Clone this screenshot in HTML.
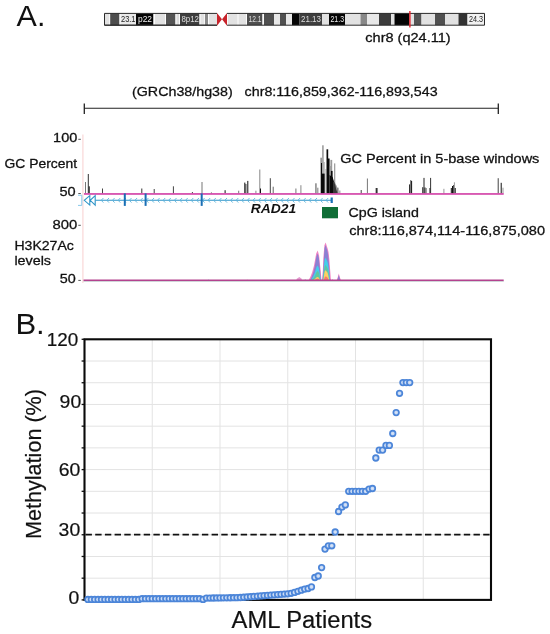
<!DOCTYPE html>
<html><head><meta charset="utf-8"><title>RAD21 figure</title>
<style>html,body{margin:0;padding:0;background:#fff;} svg{display:block;} .m{stroke:#111;stroke-width:0.28px;} .b{stroke:#111;stroke-width:0.2px;}</style></head>
<body><svg width="550" height="634" viewBox="0 0 550 634">
<rect width="550" height="634" fill="#fff"/>
<text transform="translate(16.6,26.1) scale(1.03,1)" font-size="29.6" fill="#111" font-family="Liberation Sans, Arial, sans-serif">A.</text>
<rect x="104.50" y="13.40" width="5.00" height="11.80" fill="#e2e2e2" />
<rect x="109.50" y="13.40" width="0.70" height="11.80" fill="#fbfbfb" />
<rect x="110.20" y="13.40" width="9.30" height="11.80" fill="#4e4e4e" />
<rect x="119.50" y="13.40" width="1.00" height="11.80" fill="#fbfbfb" />
<rect x="120.50" y="13.40" width="15.50" height="11.80" fill="#e9e9e9" />
<rect x="136.00" y="13.40" width="17.50" height="11.80" fill="#050505" />
<rect x="153.50" y="13.40" width="1.50" height="11.80" fill="#fbfbfb" />
<rect x="155.00" y="13.40" width="10.00" height="11.80" fill="#e2e2e2" />
<rect x="165.00" y="13.40" width="1.00" height="11.80" fill="#fbfbfb" />
<rect x="166.00" y="13.40" width="9.50" height="11.80" fill="#545454" />
<rect x="175.50" y="13.40" width="1.00" height="11.80" fill="#fbfbfb" />
<rect x="176.50" y="13.40" width="2.50" height="11.80" fill="#dcdcdc" />
<rect x="179.00" y="13.40" width="1.00" height="11.80" fill="#fbfbfb" />
<rect x="180.00" y="13.40" width="19.50" height="11.80" fill="#3e3e3e" />
<rect x="199.50" y="13.40" width="1.00" height="11.80" fill="#fbfbfb" />
<rect x="200.50" y="13.40" width="4.00" height="11.80" fill="#e2e2e2" />
<rect x="204.50" y="13.40" width="0.50" height="11.80" fill="#fbfbfb" />
<rect x="205.00" y="13.40" width="3.00" height="11.80" fill="#8a8a8a" />
<rect x="208.00" y="13.40" width="1.00" height="11.80" fill="#fbfbfb" />
<rect x="209.00" y="13.40" width="8.00" height="11.80" fill="#e2e2e2" />
<rect x="227.00" y="13.40" width="1.00" height="11.80" fill="#fbfbfb" />
<rect x="228.00" y="13.40" width="9.00" height="11.80" fill="#e2e2e2" />
<rect x="237.00" y="13.40" width="2.00" height="11.80" fill="#f0f0f0" />
<rect x="239.00" y="13.40" width="7.00" height="11.80" fill="#e2e2e2" />
<rect x="246.00" y="13.40" width="1.00" height="11.80" fill="#fbfbfb" />
<rect x="247.00" y="13.40" width="15.50" height="11.80" fill="#4f4f4f" />
<rect x="262.50" y="13.40" width="1.50" height="11.80" fill="#fbfbfb" />
<rect x="264.00" y="13.40" width="10.00" height="11.80" fill="#505050" />
<rect x="274.00" y="13.40" width="6.00" height="11.80" fill="#e8e8e8" />
<rect x="280.00" y="13.40" width="6.00" height="11.80" fill="#505050" />
<rect x="286.00" y="13.40" width="6.00" height="11.80" fill="#e8e8e8" />
<rect x="292.00" y="13.40" width="7.50" height="11.80" fill="#050505" />
<rect x="299.50" y="13.40" width="22.50" height="11.80" fill="#3f3f3f" />
<rect x="322.00" y="13.40" width="7.00" height="11.80" fill="#e2e2e2" />
<rect x="329.00" y="13.40" width="16.00" height="11.80" fill="#050505" />
<rect x="345.00" y="13.40" width="15.50" height="11.80" fill="#e2e2e2" />
<rect x="360.50" y="13.40" width="6.50" height="11.80" fill="#888" />
<rect x="367.00" y="13.40" width="12.00" height="11.80" fill="#e8e8e8" />
<rect x="379.00" y="13.40" width="12.00" height="11.80" fill="#3c3c3c" />
<rect x="391.00" y="13.40" width="3.50" height="11.80" fill="#e2e2e2" />
<rect x="394.50" y="13.40" width="15.00" height="11.80" fill="#050505" />
<rect x="409.50" y="13.40" width="4.50" height="11.80" fill="#e2e2e2" />
<rect x="414.00" y="13.40" width="7.50" height="11.80" fill="#555" />
<rect x="421.50" y="13.40" width="13.50" height="11.80" fill="#e2e2e2" />
<rect x="435.00" y="13.40" width="10.00" height="11.80" fill="#505050" />
<rect x="445.00" y="13.40" width="13.50" height="11.80" fill="#e2e2e2" />
<rect x="458.50" y="13.40" width="9.00" height="11.80" fill="#333" />
<rect x="467.50" y="13.40" width="17.00" height="11.80" fill="#f2f2f2" />
<path d="M104.5 13.4 H217 M227 13.4 H484.5 V25.2 H227 M217 25.2 H104.5 Z" fill="none" stroke="#2a2a2a" stroke-width="1"/>
<path d="M104.5 13.4 V25.2" stroke="#2a2a2a" stroke-width="1"/>
<path d="M217 12.9 L222 19.3 L217 25.7 Z M227 12.9 L222 19.3 L227 25.7 Z" fill="#c8232b"/>
<rect x="409.20" y="11.00" width="1.40" height="16.50" fill="#e8202a" />
<text x="121" y="22.3" font-size="8.6" fill="#222" font-family="Liberation Sans Narrow, Liberation Sans, Arial, sans-serif" textLength="14.5" lengthAdjust="spacingAndGlyphs" >23.1</text>
<text x="138" y="22.3" font-size="8.6" fill="#eee" font-family="Liberation Sans Narrow, Liberation Sans, Arial, sans-serif" textLength="14" lengthAdjust="spacingAndGlyphs" >p22</text>
<text x="181.5" y="22.3" font-size="8.6" fill="#ddd" font-family="Liberation Sans Narrow, Liberation Sans, Arial, sans-serif" textLength="17.5" lengthAdjust="spacingAndGlyphs" >8p12</text>
<text x="248.5" y="22.3" font-size="8.6" fill="#ddd" font-family="Liberation Sans Narrow, Liberation Sans, Arial, sans-serif" textLength="13" lengthAdjust="spacingAndGlyphs" >12.1</text>
<text x="301" y="22.3" font-size="8.6" fill="#ddd" font-family="Liberation Sans Narrow, Liberation Sans, Arial, sans-serif" textLength="20" lengthAdjust="spacingAndGlyphs" >21.13</text>
<text x="330.5" y="22.3" font-size="8.6" fill="#eee" font-family="Liberation Sans Narrow, Liberation Sans, Arial, sans-serif" textLength="13.5" lengthAdjust="spacingAndGlyphs" >21.3</text>
<text x="469" y="22.3" font-size="8.6" fill="#222" font-family="Liberation Sans Narrow, Liberation Sans, Arial, sans-serif" textLength="14" lengthAdjust="spacingAndGlyphs" >24.3</text>
<text x="365.3" y="42.4" font-size="12.6" fill="#111" font-family="Liberation Sans, Arial, sans-serif" class="m" textLength="85.3" lengthAdjust="spacingAndGlyphs" >chr8 (q24.11)</text>
<line x1="84.00" y1="108.30" x2="498.50" y2="108.30" stroke="#222" stroke-width="1.1" />
<line x1="84.30" y1="103.50" x2="84.30" y2="114.00" stroke="#222" stroke-width="1.3" />
<line x1="498.30" y1="103.50" x2="498.30" y2="114.00" stroke="#222" stroke-width="1.3" />
<text x="132" y="95.5" font-size="13.3" fill="#111" font-family="Liberation Sans, Arial, sans-serif" class="m" textLength="305.6" lengthAdjust="spacingAndGlyphs" xml:space="preserve">(GRCh38/hg38)&#160;&#160;&#160;chr8:116,859,362-116,893,543</text>
<text x="77.3" y="142.3" font-size="12.6" fill="#111" font-family="Liberation Sans, Arial, sans-serif" text-anchor="end" class="m" textLength="24.2" lengthAdjust="spacingAndGlyphs" >100</text>
<text x="4.6" y="168.1" font-size="13.0" fill="#111" font-family="Liberation Sans, Arial, sans-serif" class="m" textLength="72.4" lengthAdjust="spacingAndGlyphs" >GC Percent</text>
<text x="75.6" y="195.6" font-size="13.2" fill="#111" font-family="Liberation Sans, Arial, sans-serif" text-anchor="end" class="m" textLength="16.2" lengthAdjust="spacingAndGlyphs" >50</text>
<text x="77.3" y="228.5" font-size="13.2" fill="#111" font-family="Liberation Sans, Arial, sans-serif" text-anchor="end" class="m" textLength="24.8" lengthAdjust="spacingAndGlyphs" >800</text>
<text x="14.4" y="249.8" font-size="13.0" fill="#111" font-family="Liberation Sans, Arial, sans-serif" class="m" textLength="59.5" lengthAdjust="spacingAndGlyphs" >H3K27Ac</text>
<text x="14.4" y="265.1" font-size="13.0" fill="#111" font-family="Liberation Sans, Arial, sans-serif" class="m" textLength="36.6" lengthAdjust="spacingAndGlyphs" >levels</text>
<text x="75.8" y="282.9" font-size="12.9" fill="#111" font-family="Liberation Sans, Arial, sans-serif" text-anchor="end" class="m" textLength="16.0" lengthAdjust="spacingAndGlyphs" >50</text>
<line x1="78.30" y1="139.30" x2="80.80" y2="139.30" stroke="#555" stroke-width="1" />
<line x1="78.30" y1="193.50" x2="80.80" y2="193.50" stroke="#555" stroke-width="1" />
<line x1="78.30" y1="225.30" x2="80.80" y2="225.30" stroke="#555" stroke-width="1" />
<line x1="78.30" y1="280.40" x2="80.80" y2="280.40" stroke="#555" stroke-width="1" />
<line x1="82.90" y1="134.50" x2="82.90" y2="283.00" stroke="#f9d8d8" stroke-width="1.2" />
<rect x="85.00" y="182.00" width="1.00" height="11.50" fill="#777" />
<rect x="87.80" y="174.00" width="1.00" height="19.50" fill="#333" />
<rect x="88.70" y="186.30" width="1.00" height="7.20" fill="#111" />
<rect x="102.00" y="188.50" width="1.00" height="5.00" fill="#444" />
<rect x="141.30" y="188.50" width="1.00" height="5.00" fill="#333" />
<rect x="153.70" y="189.00" width="1.00" height="4.50" fill="#444" />
<rect x="172.90" y="186.30" width="1.00" height="7.20" fill="#444" />
<rect x="191.90" y="192.00" width="1.00" height="1.50" fill="#444" />
<rect x="201.50" y="182.00" width="1.00" height="11.50" fill="#777" />
<rect x="210.90" y="192.50" width="1.00" height="1.00" fill="#444" />
<rect x="224.60" y="190.20" width="1.00" height="3.30" fill="#111" />
<rect x="238.20" y="190.70" width="1.00" height="2.80" fill="#777" />
<rect x="244.30" y="182.60" width="1.00" height="10.90" fill="#111" />
<rect x="245.40" y="184.00" width="1.00" height="9.50" fill="#333" />
<rect x="247.30" y="180.90" width="1.00" height="12.60" fill="#111" />
<rect x="255.40" y="190.70" width="1.00" height="2.80" fill="#888" />
<rect x="259.30" y="169.50" width="1.00" height="24.00" fill="#888" />
<rect x="260.00" y="188.50" width="1.00" height="5.00" fill="#111" />
<rect x="269.80" y="178.20" width="1.00" height="15.30" fill="#444" />
<rect x="272.70" y="186.70" width="1.00" height="6.80" fill="#666" />
<rect x="295.40" y="188.50" width="1.00" height="5.00" fill="#777" />
<rect x="300.40" y="185.20" width="1.00" height="8.30" fill="#888" />
<rect x="360.70" y="190.00" width="1.00" height="3.50" fill="#444" />
<rect x="366.90" y="178.50" width="1.00" height="15.00" fill="#777" />
<rect x="375.70" y="188.00" width="1.00" height="5.50" fill="#111" />
<rect x="376.50" y="188.00" width="1.00" height="5.50" fill="#111" />
<rect x="409.00" y="184.40" width="1.00" height="9.10" fill="#333" />
<rect x="410.30" y="180.10" width="1.00" height="13.40" fill="#444" />
<rect x="411.10" y="181.00" width="1.00" height="12.50" fill="#111" />
<rect x="422.30" y="187.20" width="1.00" height="6.30" fill="#111" />
<rect x="423.50" y="177.90" width="1.00" height="15.60" fill="#222" />
<rect x="424.50" y="187.50" width="1.00" height="6.00" fill="#111" />
<rect x="425.70" y="188.00" width="1.00" height="5.50" fill="#777" />
<rect x="429.50" y="188.00" width="1.00" height="5.50" fill="#111" />
<rect x="430.10" y="177.90" width="1.00" height="15.60" fill="#333" />
<rect x="443.40" y="188.80" width="1.00" height="4.70" fill="#999" />
<rect x="450.80" y="188.00" width="1.00" height="5.50" fill="#111" />
<rect x="452.00" y="186.00" width="1.00" height="7.50" fill="#111" />
<rect x="453.20" y="185.00" width="1.00" height="8.50" fill="#222" />
<rect x="453.90" y="182.30" width="1.00" height="11.20" fill="#999" />
<rect x="454.70" y="188.00" width="1.00" height="5.50" fill="#111" />
<rect x="497.70" y="178.20" width="1.00" height="15.30" fill="#444" />
<rect x="500.70" y="182.80" width="1.00" height="10.70" fill="#111" />
<rect x="502.50" y="187.70" width="1.00" height="5.80" fill="#999" />
<rect x="315.00" y="183.30" width="1.80" height="10.20" fill="#9a9a9a" />
<rect x="317.00" y="187.70" width="1.50" height="5.80" fill="#a5a5a5" />
<rect x="320.30" y="157.70" width="1.70" height="35.80" fill="#9a9a9a" />
<rect x="321.00" y="163.00" width="1.00" height="30.50" fill="#0a0a0a" />
<rect x="322.00" y="145.30" width="1.80" height="48.20" fill="#a8a8a8" />
<rect x="323.00" y="162.00" width="1.70" height="31.50" fill="#b0b0b0" />
<rect x="321.20" y="173.60" width="3.50" height="19.90" fill="#0a0a0a" />
<rect x="322.20" y="176.00" width="1.00" height="17.50" fill="#0a0a0a" />
<rect x="324.90" y="169.00" width="1.40" height="24.50" fill="#d0d0d0" />
<rect x="326.50" y="149.30" width="1.70" height="44.20" fill="#0a0a0a" />
<rect x="327.80" y="158.50" width="1.80" height="35.00" fill="#0a0a0a" />
<rect x="329.40" y="166.00" width="1.20" height="27.50" fill="#7a7a7a" />
<rect x="330.40" y="159.90" width="1.80" height="33.60" fill="#9a9a9a" />
<rect x="330.90" y="170.90" width="1.70" height="22.60" fill="#0a0a0a" />
<rect x="334.00" y="163.40" width="1.30" height="30.10" fill="#a0a0a0" />
<rect x="337.00" y="187.70" width="1.80" height="5.80" fill="#a5a5a5" />
<rect x="339.00" y="190.50" width="1.50" height="3.00" fill="#b0b0b0" />
<path d="M329.5 193.5 V175 L331 176 L332.6 177 L333.5 180 L334.5 183 L335.5 186 L336.3 189.5 L337 191.5 L337.5 193.5 Z" fill="#0a0a0a"/>
<path d="M333 193.5 V181 L335 183 L336.5 185.5 L337.5 188 L338.2 193.5 Z" fill="#555" opacity="0.6"/>
<rect x="84.00" y="193.10" width="419.70" height="1.70" fill="#d447aa" />
<text x="340.2" y="163.4" font-size="13.1" fill="#111" font-family="Liberation Sans, Arial, sans-serif" class="m" textLength="199.2" lengthAdjust="spacingAndGlyphs" >GC Percent in 5-base windows</text>
<path d="M78 195.2 H81.8 V205.4 H78" fill="none" stroke="#86c8ea" stroke-width="1"/>
<path d="M89.8 195.6 L84.3 200.3 L89.8 205.1 Z M95.2 195.6 L90.2 200.3 L95.2 205.1 Z" fill="none" stroke="#2f95c8" stroke-width="1.1"/>
<line x1="95.40" y1="200.30" x2="331.00" y2="200.30" stroke="#2f95c8" stroke-width="1.1" />
<path d="M103.4 198 L101.2 200.3 L103.4 202.6 M109.0 198 L106.8 200.3 L109.0 202.6 M114.6 198 L112.4 200.3 L114.6 202.6 M120.3 198 L118.1 200.3 L120.3 202.6 M125.9 198 L123.7 200.3 L125.9 202.6 M131.5 198 L129.3 200.3 L131.5 202.6 M137.1 198 L134.9 200.3 L137.1 202.6 M142.7 198 L140.5 200.3 L142.7 202.6 M148.4 198 L146.2 200.3 L148.4 202.6 M154.0 198 L151.8 200.3 L154.0 202.6 M159.6 198 L157.4 200.3 L159.6 202.6 M165.2 198 L163.0 200.3 L165.2 202.6 M170.8 198 L168.6 200.3 L170.8 202.6 M176.5 198 L174.3 200.3 L176.5 202.6 M182.1 198 L179.9 200.3 L182.1 202.6 M187.7 198 L185.5 200.3 L187.7 202.6 M193.3 198 L191.1 200.3 L193.3 202.6 M198.9 198 L196.7 200.3 L198.9 202.6 M204.6 198 L202.4 200.3 L204.6 202.6 M210.2 198 L208.0 200.3 L210.2 202.6 M215.8 198 L213.6 200.3 L215.8 202.6 M221.4 198 L219.2 200.3 L221.4 202.6 M227.0 198 L224.8 200.3 L227.0 202.6 M232.7 198 L230.5 200.3 L232.7 202.6 M238.3 198 L236.1 200.3 L238.3 202.6 M243.9 198 L241.7 200.3 L243.9 202.6 M249.5 198 L247.3 200.3 L249.5 202.6 M255.1 198 L252.9 200.3 L255.1 202.6 M260.8 198 L258.6 200.3 L260.8 202.6 M266.4 198 L264.2 200.3 L266.4 202.6 M272.0 198 L269.8 200.3 L272.0 202.6 M277.6 198 L275.4 200.3 L277.6 202.6 M283.2 198 L281.0 200.3 L283.2 202.6 M288.9 198 L286.7 200.3 L288.9 202.6 M294.5 198 L292.3 200.3 L294.5 202.6 M300.1 198 L297.9 200.3 L300.1 202.6 M305.7 198 L303.5 200.3 L305.7 202.6 M311.3 198 L309.1 200.3 L311.3 202.6 M317.0 198 L314.8 200.3 L317.0 202.6 M322.6 198 L320.4 200.3 L322.6 202.6 M328.2 198 L326.0 200.3 L328.2 202.6" fill="none" stroke="#5ab4de" stroke-width="0.9"/>
<rect x="123.80" y="193.40" width="2.00" height="12.50" fill="#1a6fb5" />
<rect x="144.60" y="193.40" width="2.00" height="12.50" fill="#1a6fb5" />
<rect x="200.70" y="193.40" width="2.00" height="12.50" fill="#1a6fb5" />
<rect x="330.60" y="197.50" width="2.20" height="5.50" fill="#1a6fb5" />
<text x="250.8" y="212.7" font-size="12.5" fill="#111" font-family="Liberation Sans, Arial, sans-serif" textLength="45.4" lengthAdjust="spacingAndGlyphs" font-weight="bold" font-style="italic" >RAD21</text>
<rect x="322.00" y="207.00" width="16.00" height="11.30" fill="#0f6e36" />
<text x="348.6" y="216.9" font-size="13.1" fill="#111" font-family="Liberation Sans, Arial, sans-serif" class="m" textLength="70.2" lengthAdjust="spacingAndGlyphs" >CpG island</text>
<text x="349.2" y="234.7" font-size="13.1" fill="#111" font-family="Liberation Sans, Arial, sans-serif" class="m" textLength="195.8" lengthAdjust="spacingAndGlyphs" >chr8:116,874,114-116,875,080</text>
<path d="M308.4 280.6 L310.3 277.0 L312.1 272.6 L314.0 265.5 L316.2 253.5 L317.7 250.6 L319.1 255.4 L319.9 263.4 L320.7 270.7 L321.3 278.2 L321.7 280.6 Z" fill="#f384c4" opacity="1"/>
<path d="M309.89 280.6 L311.48 277.36 L313.0 273.4 L314.59 267.01 L316.44 256.21 L317.7 253.6 L318.88 257.92 L319.55 265.12 L320.22 271.69 L320.72 278.44 L321.06 280.6 Z" fill="#8c80d2" opacity="1"/>
<path d="M310.26 280.6 L311.78 278.8 L313.22 276.6 L314.74 273.05 L316.5 267.05 L317.7 265.6 L318.82 268.0 L319.46 272.0 L320.1 275.65 L320.58 279.4 L320.9 280.6 Z" fill="#43cfea" opacity="1"/>
<path d="M310.82 280.6 L312.22 279.45 L313.56 278.04 L314.96 275.77 L316.59 271.93 L317.7 271.0 L318.74 272.54 L319.33 275.1 L319.92 277.43 L320.36 279.83 L320.66 280.6 Z" fill="#5fc6a2" opacity="1"/>
<path d="M311.38 280.6 L312.67 280.17 L313.89 279.64 L315.18 278.79 L316.68 277.35 L317.7 277.0 L318.65 277.58 L319.2 278.54 L319.74 279.41 L320.15 280.31 L320.42 280.6 Z" fill="#fbd163" opacity="1"/>
<path d="M312.12 280.6 L313.26 280.35 L314.34 280.04 L315.48 279.54 L316.8 278.7 L317.7 278.5 L318.54 278.84 L319.02 279.4 L319.5 279.91 L319.86 280.43 L320.1 280.6 Z" fill="#f77c6e" opacity="1"/>
<path d="M321.9 280.6 L322.8 270.7 L323.5 256.2 L324.4 245.3 L325.7 242.4 L327.0 246.7 L327.8 248.9 L328.6 252.5 L329.4 259.8 L330.1 269.2 L330.8 278.2 L331.2 280.6 Z" fill="#f384c4" opacity="1"/>
<path d="M322.51 280.6 L323.26 271.39 L323.85 257.91 L324.61 247.77 L325.7 245.07 L326.79 249.07 L327.46 251.12 L328.14 254.47 L328.81 261.26 L329.4 270.0 L329.98 278.37 L330.32 280.6 Z" fill="#8c80d2" opacity="1"/>
<path d="M322.66 280.6 L323.38 274.66 L323.94 265.96 L324.66 259.42 L325.7 257.68 L326.74 260.26 L327.38 261.58 L328.02 263.74 L328.66 268.12 L329.22 273.76 L329.78 279.16 L330.1 280.6 Z" fill="#43cfea" opacity="1"/>
<path d="M322.89 280.6 L323.55 276.54 L324.07 270.6 L324.74 266.13 L325.7 264.94 L326.66 266.7 L327.25 267.6 L327.85 269.08 L328.44 272.07 L328.96 275.93 L329.47 279.62 L329.77 280.6 Z" fill="#5fc6a2" opacity="1"/>
<path d="M323.12 280.6 L323.73 277.93 L324.2 274.01 L324.82 271.07 L325.7 270.29 L326.58 271.45 L327.13 272.04 L327.67 273.01 L328.22 274.98 L328.69 277.52 L329.17 279.95 L329.44 280.6 Z" fill="#fbd163" opacity="1"/>
<path d="M323.42 280.6 L323.96 279.51 L324.38 277.92 L324.92 276.72 L325.7 276.4 L326.48 276.87 L326.96 277.11 L327.44 277.51 L327.92 278.31 L328.34 279.35 L328.76 280.34 L329.0 280.6 Z" fill="#f77c6e" opacity="1"/>
<path d="M336.6 280.6 L337.8 277 L338.8 273.5 L339.8 277 L341 280.6 Z" fill="#f384c4" opacity="1"/>
<path d="M337.2 280.6 L338.1 277.5 L338.8 275 L339.5 277.5 L340.4 280.6 Z" fill="#8c80d2" opacity="1"/>
<path d="M295.8 280.6 L297.5 278.3 L299.3 277 L301 278.3 L302.4 280.6 Z" fill="#e39ad0" opacity="1"/>
<path d="M304 280.6 L305.2 279.2 L306.5 280.6 Z" fill="#a592d8" opacity="1"/>
<path d="M331.5 280.6 L332.5 279.3 L333.8 280.6 Z" fill="#c58ad0" opacity="1"/>
<path d="M207.6 280.6 L208.7 279.4 L209.8 280.6 Z" fill="#6cc6e4" opacity="1"/>
<path d="M246.2 280.6 L247.2 279.6 L248.2 280.6 Z" fill="#e8a0d0" opacity="1"/>
<rect x="83.50" y="279.50" width="420.20" height="1.70" fill="#b3428e" />
<rect x="83.50" y="281.20" width="420.20" height="0.80" fill="#c8d4d4" />
<text transform="translate(15.4,334.0) scale(1.05,1)" font-size="29.6" fill="#111" font-family="Liberation Sans, Arial, sans-serif">B.</text>
<line x1="84.50" y1="578.18" x2="491.00" y2="578.18" stroke="#e3e3e3" stroke-width="1" />
<line x1="84.50" y1="556.47" x2="491.00" y2="556.47" stroke="#e3e3e3" stroke-width="1" />
<line x1="84.50" y1="534.75" x2="491.00" y2="534.75" stroke="#e3e3e3" stroke-width="1" />
<line x1="84.50" y1="513.03" x2="491.00" y2="513.03" stroke="#e3e3e3" stroke-width="1" />
<line x1="84.50" y1="491.32" x2="491.00" y2="491.32" stroke="#e3e3e3" stroke-width="1" />
<line x1="84.50" y1="469.60" x2="491.00" y2="469.60" stroke="#e3e3e3" stroke-width="1" />
<line x1="84.50" y1="447.88" x2="491.00" y2="447.88" stroke="#e3e3e3" stroke-width="1" />
<line x1="84.50" y1="426.17" x2="491.00" y2="426.17" stroke="#e3e3e3" stroke-width="1" />
<line x1="84.50" y1="404.45" x2="491.00" y2="404.45" stroke="#e3e3e3" stroke-width="1" />
<line x1="84.50" y1="382.73" x2="491.00" y2="382.73" stroke="#e3e3e3" stroke-width="1" />
<line x1="84.50" y1="361.02" x2="491.00" y2="361.02" stroke="#e3e3e3" stroke-width="1" />
<line x1="152.25" y1="339.30" x2="152.25" y2="599.90" stroke="#e3e3e3" stroke-width="1" />
<line x1="220.00" y1="339.30" x2="220.00" y2="599.90" stroke="#e3e3e3" stroke-width="1" />
<line x1="287.75" y1="339.30" x2="287.75" y2="599.90" stroke="#e3e3e3" stroke-width="1" />
<line x1="355.50" y1="339.30" x2="355.50" y2="599.90" stroke="#e3e3e3" stroke-width="1" />
<line x1="423.25" y1="339.30" x2="423.25" y2="599.90" stroke="#e3e3e3" stroke-width="1" />
<line x1="81.60" y1="599.90" x2="84.50" y2="599.90" stroke="#111" stroke-width="1.3" />
<line x1="81.60" y1="578.18" x2="84.50" y2="578.18" stroke="#111" stroke-width="1.3" />
<line x1="81.60" y1="556.47" x2="84.50" y2="556.47" stroke="#111" stroke-width="1.3" />
<line x1="81.60" y1="534.75" x2="84.50" y2="534.75" stroke="#111" stroke-width="1.3" />
<line x1="81.60" y1="513.03" x2="84.50" y2="513.03" stroke="#111" stroke-width="1.3" />
<line x1="81.60" y1="491.32" x2="84.50" y2="491.32" stroke="#111" stroke-width="1.3" />
<line x1="81.60" y1="469.60" x2="84.50" y2="469.60" stroke="#111" stroke-width="1.3" />
<line x1="81.60" y1="447.88" x2="84.50" y2="447.88" stroke="#111" stroke-width="1.3" />
<line x1="81.60" y1="426.17" x2="84.50" y2="426.17" stroke="#111" stroke-width="1.3" />
<line x1="81.60" y1="404.45" x2="84.50" y2="404.45" stroke="#111" stroke-width="1.3" />
<line x1="81.60" y1="382.73" x2="84.50" y2="382.73" stroke="#111" stroke-width="1.3" />
<line x1="81.60" y1="361.02" x2="84.50" y2="361.02" stroke="#111" stroke-width="1.3" />
<line x1="81.60" y1="339.30" x2="84.50" y2="339.30" stroke="#111" stroke-width="1.3" />
<line x1="85.50" y1="534.70" x2="490.00" y2="534.70" stroke="#111" stroke-width="1.8" stroke-dasharray="6.4 3.3"/>
<rect x="84.5" y="339.3" width="406.5" height="260.59999999999997" fill="none" stroke="#0a0a0a" stroke-width="2.1"/>
<text x="78.2" y="346.4" font-size="18.2" fill="#111" font-family="Liberation Sans, Arial, sans-serif" text-anchor="end" class="b" textLength="31.5" lengthAdjust="spacingAndGlyphs" >120</text>
<text x="81.2" y="408.1" font-size="18.2" fill="#111" font-family="Liberation Sans, Arial, sans-serif" text-anchor="end" class="b" textLength="21.6" lengthAdjust="spacingAndGlyphs" >90</text>
<text x="80.4" y="475.6" font-size="18.2" fill="#111" font-family="Liberation Sans, Arial, sans-serif" text-anchor="end" class="b" textLength="21.6" lengthAdjust="spacingAndGlyphs" >60</text>
<text x="80.2" y="536.4" font-size="18.2" fill="#111" font-family="Liberation Sans, Arial, sans-serif" text-anchor="end" class="b" textLength="21.6" lengthAdjust="spacingAndGlyphs" >30</text>
<text x="79.2" y="603.6" font-size="18.2" fill="#111" font-family="Liberation Sans, Arial, sans-serif" text-anchor="end" class="b" textLength="10.8" lengthAdjust="spacingAndGlyphs" >0</text>
<text x="231.6" y="628.0" font-size="23.5" fill="#111" font-family="Liberation Sans, Arial, sans-serif" class="b" textLength="140.5" lengthAdjust="spacingAndGlyphs" >AML Patients</text>
<text class="b" x="0" y="0" font-size="21.6" fill="#111" font-family="Liberation Sans, Arial, sans-serif" transform="translate(40.6,539.0) rotate(-90)">Methylation (%)</text>
<defs><radialGradient id="dg" cx="0.5" cy="0.5" r="0.5"><stop offset="0" stop-color="#e0e6f3"/><stop offset="0.45" stop-color="#c9daf4"/><stop offset="0.8" stop-color="#8fb8ee"/><stop offset="1" stop-color="#6c9fe6"/></radialGradient></defs>
<circle cx="87.89" cy="599.45" r="2.85" fill="url(#dg)" stroke="#4c85d8" stroke-width="1.6"/>
<circle cx="91.28" cy="599.45" r="2.85" fill="url(#dg)" stroke="#4c85d8" stroke-width="1.6"/>
<circle cx="94.66" cy="599.45" r="2.85" fill="url(#dg)" stroke="#4c85d8" stroke-width="1.6"/>
<circle cx="98.05" cy="599.45" r="2.85" fill="url(#dg)" stroke="#4c85d8" stroke-width="1.6"/>
<circle cx="101.44" cy="599.45" r="2.85" fill="url(#dg)" stroke="#4c85d8" stroke-width="1.6"/>
<circle cx="104.83" cy="599.45" r="2.85" fill="url(#dg)" stroke="#4c85d8" stroke-width="1.6"/>
<circle cx="108.21" cy="599.45" r="2.85" fill="url(#dg)" stroke="#4c85d8" stroke-width="1.6"/>
<circle cx="111.60" cy="599.45" r="2.85" fill="url(#dg)" stroke="#4c85d8" stroke-width="1.6"/>
<circle cx="114.99" cy="599.45" r="2.85" fill="url(#dg)" stroke="#4c85d8" stroke-width="1.6"/>
<circle cx="118.38" cy="599.45" r="2.85" fill="url(#dg)" stroke="#4c85d8" stroke-width="1.6"/>
<circle cx="121.76" cy="599.45" r="2.85" fill="url(#dg)" stroke="#4c85d8" stroke-width="1.6"/>
<circle cx="125.15" cy="599.45" r="2.85" fill="url(#dg)" stroke="#4c85d8" stroke-width="1.6"/>
<circle cx="128.54" cy="599.45" r="2.85" fill="url(#dg)" stroke="#4c85d8" stroke-width="1.6"/>
<circle cx="131.93" cy="599.45" r="2.85" fill="url(#dg)" stroke="#4c85d8" stroke-width="1.6"/>
<circle cx="135.31" cy="599.45" r="2.85" fill="url(#dg)" stroke="#4c85d8" stroke-width="1.6"/>
<circle cx="138.70" cy="599.45" r="2.85" fill="url(#dg)" stroke="#4c85d8" stroke-width="1.6"/>
<circle cx="142.09" cy="598.70" r="2.85" fill="url(#dg)" stroke="#4c85d8" stroke-width="1.6"/>
<circle cx="145.47" cy="598.70" r="2.85" fill="url(#dg)" stroke="#4c85d8" stroke-width="1.6"/>
<circle cx="148.86" cy="598.70" r="2.85" fill="url(#dg)" stroke="#4c85d8" stroke-width="1.6"/>
<circle cx="152.25" cy="598.70" r="2.85" fill="url(#dg)" stroke="#4c85d8" stroke-width="1.6"/>
<circle cx="155.64" cy="598.70" r="2.85" fill="url(#dg)" stroke="#4c85d8" stroke-width="1.6"/>
<circle cx="159.03" cy="598.70" r="2.85" fill="url(#dg)" stroke="#4c85d8" stroke-width="1.6"/>
<circle cx="162.41" cy="598.70" r="2.85" fill="url(#dg)" stroke="#4c85d8" stroke-width="1.6"/>
<circle cx="165.80" cy="598.70" r="2.85" fill="url(#dg)" stroke="#4c85d8" stroke-width="1.6"/>
<circle cx="169.19" cy="598.70" r="2.85" fill="url(#dg)" stroke="#4c85d8" stroke-width="1.6"/>
<circle cx="172.57" cy="598.70" r="2.85" fill="url(#dg)" stroke="#4c85d8" stroke-width="1.6"/>
<circle cx="175.96" cy="598.70" r="2.85" fill="url(#dg)" stroke="#4c85d8" stroke-width="1.6"/>
<circle cx="179.35" cy="598.70" r="2.85" fill="url(#dg)" stroke="#4c85d8" stroke-width="1.6"/>
<circle cx="182.74" cy="598.70" r="2.85" fill="url(#dg)" stroke="#4c85d8" stroke-width="1.6"/>
<circle cx="186.12" cy="598.70" r="2.85" fill="url(#dg)" stroke="#4c85d8" stroke-width="1.6"/>
<circle cx="189.51" cy="598.70" r="2.85" fill="url(#dg)" stroke="#4c85d8" stroke-width="1.6"/>
<circle cx="192.90" cy="598.70" r="2.85" fill="url(#dg)" stroke="#4c85d8" stroke-width="1.6"/>
<circle cx="196.29" cy="598.70" r="2.85" fill="url(#dg)" stroke="#4c85d8" stroke-width="1.6"/>
<circle cx="199.68" cy="598.70" r="2.85" fill="url(#dg)" stroke="#4c85d8" stroke-width="1.6"/>
<circle cx="203.06" cy="599.40" r="2.85" fill="url(#dg)" stroke="#4c85d8" stroke-width="1.6"/>
<circle cx="206.45" cy="598.10" r="2.85" fill="url(#dg)" stroke="#4c85d8" stroke-width="1.6"/>
<circle cx="209.84" cy="598.05" r="2.85" fill="url(#dg)" stroke="#4c85d8" stroke-width="1.6"/>
<circle cx="213.22" cy="598.00" r="2.85" fill="url(#dg)" stroke="#4c85d8" stroke-width="1.6"/>
<circle cx="216.61" cy="597.95" r="2.85" fill="url(#dg)" stroke="#4c85d8" stroke-width="1.6"/>
<circle cx="220.00" cy="597.90" r="2.85" fill="url(#dg)" stroke="#4c85d8" stroke-width="1.6"/>
<circle cx="223.39" cy="597.85" r="2.85" fill="url(#dg)" stroke="#4c85d8" stroke-width="1.6"/>
<circle cx="226.78" cy="597.80" r="2.85" fill="url(#dg)" stroke="#4c85d8" stroke-width="1.6"/>
<circle cx="230.16" cy="597.75" r="2.85" fill="url(#dg)" stroke="#4c85d8" stroke-width="1.6"/>
<circle cx="233.55" cy="597.70" r="2.85" fill="url(#dg)" stroke="#4c85d8" stroke-width="1.6"/>
<circle cx="236.94" cy="597.65" r="2.85" fill="url(#dg)" stroke="#4c85d8" stroke-width="1.6"/>
<circle cx="240.33" cy="597.50" r="2.85" fill="url(#dg)" stroke="#4c85d8" stroke-width="1.6"/>
<circle cx="243.71" cy="597.24" r="2.85" fill="url(#dg)" stroke="#4c85d8" stroke-width="1.6"/>
<circle cx="247.10" cy="596.97" r="2.85" fill="url(#dg)" stroke="#4c85d8" stroke-width="1.6"/>
<circle cx="250.49" cy="596.71" r="2.85" fill="url(#dg)" stroke="#4c85d8" stroke-width="1.6"/>
<circle cx="253.88" cy="596.44" r="2.85" fill="url(#dg)" stroke="#4c85d8" stroke-width="1.6"/>
<circle cx="257.26" cy="596.18" r="2.85" fill="url(#dg)" stroke="#4c85d8" stroke-width="1.6"/>
<circle cx="260.65" cy="595.91" r="2.85" fill="url(#dg)" stroke="#4c85d8" stroke-width="1.6"/>
<circle cx="264.04" cy="595.65" r="2.85" fill="url(#dg)" stroke="#4c85d8" stroke-width="1.6"/>
<circle cx="267.43" cy="595.39" r="2.85" fill="url(#dg)" stroke="#4c85d8" stroke-width="1.6"/>
<circle cx="270.81" cy="595.12" r="2.85" fill="url(#dg)" stroke="#4c85d8" stroke-width="1.6"/>
<circle cx="274.20" cy="594.86" r="2.85" fill="url(#dg)" stroke="#4c85d8" stroke-width="1.6"/>
<circle cx="277.59" cy="594.59" r="2.85" fill="url(#dg)" stroke="#4c85d8" stroke-width="1.6"/>
<circle cx="280.98" cy="594.33" r="2.85" fill="url(#dg)" stroke="#4c85d8" stroke-width="1.6"/>
<circle cx="284.36" cy="594.06" r="2.85" fill="url(#dg)" stroke="#4c85d8" stroke-width="1.6"/>
<circle cx="287.75" cy="593.80" r="2.85" fill="url(#dg)" stroke="#4c85d8" stroke-width="1.6"/>
<circle cx="291.14" cy="593.30" r="2.85" fill="url(#dg)" stroke="#4c85d8" stroke-width="1.6"/>
<circle cx="294.52" cy="592.40" r="2.85" fill="url(#dg)" stroke="#4c85d8" stroke-width="1.6"/>
<circle cx="297.91" cy="591.30" r="2.85" fill="url(#dg)" stroke="#4c85d8" stroke-width="1.6"/>
<circle cx="301.30" cy="590.20" r="2.85" fill="url(#dg)" stroke="#4c85d8" stroke-width="1.6"/>
<circle cx="304.69" cy="589.10" r="2.85" fill="url(#dg)" stroke="#4c85d8" stroke-width="1.6"/>
<circle cx="308.08" cy="588.50" r="2.85" fill="url(#dg)" stroke="#4c85d8" stroke-width="1.6"/>
<circle cx="311.46" cy="586.90" r="2.85" fill="url(#dg)" stroke="#4c85d8" stroke-width="1.6"/>
<circle cx="314.85" cy="577.50" r="2.85" fill="url(#dg)" stroke="#4c85d8" stroke-width="1.6"/>
<circle cx="318.24" cy="576.00" r="2.85" fill="url(#dg)" stroke="#4c85d8" stroke-width="1.6"/>
<circle cx="321.62" cy="567.60" r="2.85" fill="url(#dg)" stroke="#4c85d8" stroke-width="1.6"/>
<circle cx="325.01" cy="549.10" r="2.85" fill="url(#dg)" stroke="#4c85d8" stroke-width="1.6"/>
<circle cx="328.40" cy="545.80" r="2.85" fill="url(#dg)" stroke="#4c85d8" stroke-width="1.6"/>
<circle cx="331.79" cy="545.80" r="2.85" fill="url(#dg)" stroke="#4c85d8" stroke-width="1.6"/>
<circle cx="335.18" cy="532.00" r="2.85" fill="url(#dg)" stroke="#4c85d8" stroke-width="1.6"/>
<circle cx="338.56" cy="511.50" r="2.85" fill="url(#dg)" stroke="#4c85d8" stroke-width="1.6"/>
<circle cx="341.95" cy="507.10" r="2.85" fill="url(#dg)" stroke="#4c85d8" stroke-width="1.6"/>
<circle cx="345.34" cy="504.90" r="2.85" fill="url(#dg)" stroke="#4c85d8" stroke-width="1.6"/>
<circle cx="348.73" cy="491.30" r="2.85" fill="url(#dg)" stroke="#4c85d8" stroke-width="1.6"/>
<circle cx="352.11" cy="491.30" r="2.85" fill="url(#dg)" stroke="#4c85d8" stroke-width="1.6"/>
<circle cx="355.50" cy="491.30" r="2.85" fill="url(#dg)" stroke="#4c85d8" stroke-width="1.6"/>
<circle cx="358.89" cy="491.30" r="2.85" fill="url(#dg)" stroke="#4c85d8" stroke-width="1.6"/>
<circle cx="362.28" cy="491.30" r="2.85" fill="url(#dg)" stroke="#4c85d8" stroke-width="1.6"/>
<circle cx="365.66" cy="491.30" r="2.85" fill="url(#dg)" stroke="#4c85d8" stroke-width="1.6"/>
<circle cx="369.05" cy="489.10" r="2.85" fill="url(#dg)" stroke="#4c85d8" stroke-width="1.6"/>
<circle cx="372.44" cy="488.50" r="2.85" fill="url(#dg)" stroke="#4c85d8" stroke-width="1.6"/>
<circle cx="375.82" cy="458.00" r="2.85" fill="url(#dg)" stroke="#4c85d8" stroke-width="1.6"/>
<circle cx="379.21" cy="450.10" r="2.85" fill="url(#dg)" stroke="#4c85d8" stroke-width="1.6"/>
<circle cx="382.60" cy="450.10" r="2.85" fill="url(#dg)" stroke="#4c85d8" stroke-width="1.6"/>
<circle cx="385.99" cy="445.40" r="2.85" fill="url(#dg)" stroke="#4c85d8" stroke-width="1.6"/>
<circle cx="389.38" cy="445.40" r="2.85" fill="url(#dg)" stroke="#4c85d8" stroke-width="1.6"/>
<circle cx="392.76" cy="433.50" r="2.85" fill="url(#dg)" stroke="#4c85d8" stroke-width="1.6"/>
<circle cx="396.15" cy="412.60" r="2.85" fill="url(#dg)" stroke="#4c85d8" stroke-width="1.6"/>
<circle cx="399.54" cy="393.30" r="2.85" fill="url(#dg)" stroke="#4c85d8" stroke-width="1.6"/>
<circle cx="402.93" cy="382.60" r="2.85" fill="url(#dg)" stroke="#4c85d8" stroke-width="1.6"/>
<circle cx="406.31" cy="382.60" r="2.85" fill="url(#dg)" stroke="#4c85d8" stroke-width="1.6"/>
<circle cx="409.70" cy="382.60" r="2.85" fill="url(#dg)" stroke="#4c85d8" stroke-width="1.6"/>
</svg></body></html>
